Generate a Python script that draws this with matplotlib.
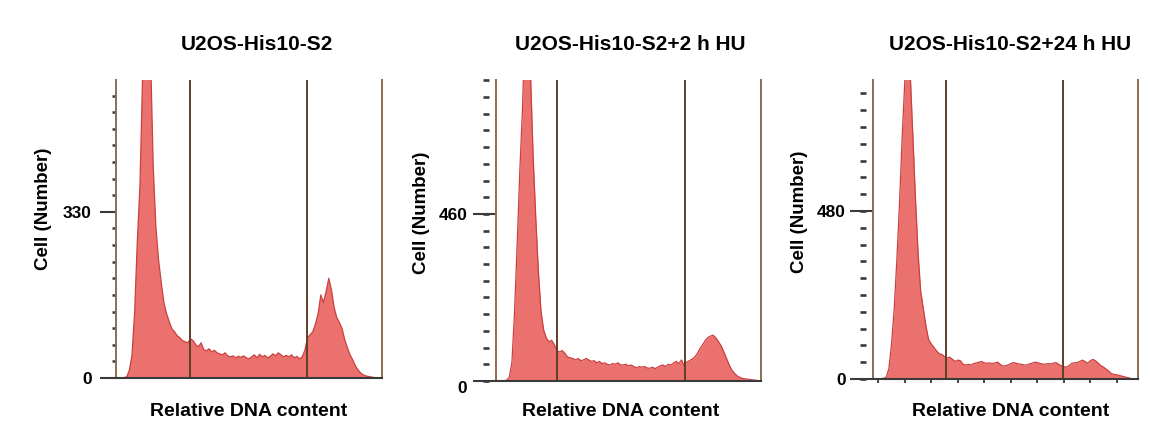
import numpy as np
import matplotlib
matplotlib.use("Agg")
import matplotlib.pyplot as plt
from matplotlib.ticker import MultipleLocator, FixedLocator, NullLocator, NullFormatter

plt.rcParams['font.family'] = ['Liberation Sans', 'DejaVu Sans']
plt.rcParams['font.weight'] = 'bold'

# ---------------- data ----------------
titles = ["U2OS-His10-S2", "U2OS-His10-S2+2 h HU", "U2OS-His10-S2+24 h HU"]
x_label = "Relative DNA content"
y_label = "Cell (Number)"
y_major_labels = [330, 460, 480]
y_tops = [592, 829, 854]
minor_steps = [33, 46, 48]

dna = np.arange(101)

counts_s2 = [0, 0, 0, 1, 2, 15, 45, 130, 270, 380, 600, 820, 900, 640, 420, 300, 235, 190, 150, 128,
             112, 98, 92, 84, 80, 74, 72, 70, 78, 74, 66, 62, 70, 56, 54, 58, 52, 55, 50, 48,
             46, 50, 44, 42, 44, 40, 43, 41, 44, 40, 38, 42, 46, 40, 47, 42, 45, 40, 43, 48,
             44, 50, 46, 42, 45, 42, 46, 40, 43, 38, 42, 55, 80, 86, 92, 108, 128, 165, 150, 172,
             198, 175, 140, 120, 110, 98, 76, 60, 46, 36, 24, 16, 10, 6, 4, 3, 2, 1, 0, 0, 0]

counts_2h = [0, 0, 1, 1, 2, 10, 50, 190, 380, 580, 750, 1000, 1100, 850, 620, 450, 300, 190, 140, 118,
             108, 112, 100, 84, 80, 84, 76, 66, 64, 62, 58, 62, 56, 58, 62, 58, 54, 56, 50, 54,
             48, 50, 46, 44, 48, 46, 50, 44, 44, 46, 42, 44, 40, 36, 40, 38, 40, 36, 35, 38,
             34, 38, 42, 44, 40, 46, 44, 50, 54, 48, 58, 42, 52, 56, 60, 66, 76, 90, 100, 112,
             120, 124, 126, 118, 108, 96, 80, 62, 44, 30, 21, 14, 10, 7, 6, 5, 4, 3, 2, 1, 0]

counts_24h = [0, 0, 0, 1, 2, 5, 30, 100, 200, 340, 500, 690, 850, 980, 880, 700, 520, 360, 250, 200,
              150, 112, 100, 90, 80, 72, 70, 64, 60, 62, 56, 50, 54, 52, 42, 40, 42, 40, 44, 46,
              48, 50, 46, 45, 46, 44, 46, 48, 42, 37, 38, 40, 44, 47, 45, 43, 42, 40, 40, 43,
              45, 48, 47, 44, 43, 42, 44, 43, 45, 47, 42, 38, 35, 34, 38, 45, 46, 47, 50, 54,
              50, 45, 52, 56, 52, 45, 38, 34, 28, 22, 15, 13, 12, 10, 8, 6, 4, 2, 0, 0, 0]

all_counts = [counts_s2, counts_2h, counts_24h]
gates = [[27.8, 71.8], [23.0, 71.3], [27.5, 71.7]]
x_bounds = [0, 100]

# ---------------- layout ----------------
W, H = 1176, 442
fig = plt.figure(figsize=(W / 100, H / 100), dpi=100)

# axes boxes in pixels: left, right, top, bottom
boxes = [(116, 382, 80, 378), (496, 761, 80, 381), (873, 1138, 80, 379)]
minor_offsets_px = [0, 7, 7]
title_pos = [(257, 45), (630, 45), (1010, 45)]
xlabel_pos = [(249, 412), (621, 412), (1011, 412)]
ylabel_pos = [(43, 209), (422, 213), (800, 212)]
label_pads = [6, 4, 3]

fill_col = '#eb716e'
edge_col = '#c9413f'
gate_col = '#5e3f27'
bound_col = '#8d6e4c'
axis_col = '#3a3a3a'
px2pt = 0.72

for i in range(3):
    l, r, t, b = boxes[i]
    ax = fig.add_axes([l / W, 1 - b / H, (r - l) / W, (b - t) / H])
    ax.set_xlim(0, 100)
    ax.set_ylim(0, y_tops[i])

    ax.fill_between(dna, all_counts[i], 0, color=fill_col, lw=0, zorder=2)
    ax.plot(dna, all_counts[i], color=edge_col, lw=0.9, zorder=3)

    for g in gates[i]:
        ax.axvline(g, color=gate_col, lw=1.4, zorder=4)
    for g in x_bounds:
        ax.axvline(g, color=bound_col, lw=1.4, zorder=4, clip_on=False)

    for s in ['top', 'right', 'left']:
        ax.spines[s].set_visible(False)
    ax.spines['bottom'].set_color(axis_col)
    ax.spines['bottom'].set_linewidth(1.5)
    ax.spines['bottom'].set_zorder(5)

    # y major ticks
    ax.yaxis.set_major_locator(FixedLocator([0, y_major_labels[i]]))
    ax.tick_params(axis='y', which='major', direction='out', length=(16 + minor_offsets_px[i]) * px2pt,
                   width=1.5, color=axis_col, labelsize=12.5, pad=label_pads[i])
    for lbl in ax.get_yticklabels():
        lbl.set_fontweight('bold')

    if minor_offsets_px[i] == 0:
        ax.yaxis.set_minor_locator(MultipleLocator(minor_steps[i]))
        ax.tick_params(axis='y', which='minor', direction='out', length=4.5 * px2pt,
                       width=1.8, color=axis_col)
    else:
        ax.yaxis.set_minor_locator(NullLocator())
        sec = ax.secondary_yaxis(-minor_offsets_px[i] / (r - l))
        for s in sec.spines.values():
            s.set_visible(False)
        sec.yaxis.set_major_locator(NullLocator())
        sec.yaxis.set_minor_locator(MultipleLocator(minor_steps[i]))
        sec.yaxis.set_minor_formatter(NullFormatter())
        sec.tick_params(axis='y', which='minor', direction='out', length=6 * px2pt,
                        width=1.9, color=axis_col)

    if i == 2:
        ax.xaxis.set_major_locator(FixedLocator(np.arange(2, 100, 10)))
        ax.tick_params(axis='x', which='major', direction='out', length=4 * px2pt,
                       width=1.3, color=axis_col, labelbottom=False)
    else:
        ax.set_xticks([])

    if i == 1:
        ax.get_yticklabels()[0].set_va('top')

    tx, ty = title_pos[i]
    fig.text(tx / W, 1 - ty / H, titles[i], ha='center', va='center', fontsize=15, fontweight='bold')
    xx, xy = xlabel_pos[i]
    fig.text(xx / W, 1 - xy / H, x_label, ha='center', va='center', fontsize=14, fontweight='bold')
    yx, yy = ylabel_pos[i]
    fig.text(yx / W, 1 - yy / H, y_label, ha='center', va='center', rotation=90,
             fontsize=13.5, fontweight='bold')

fig.savefig('out.png', dpi=100, facecolor='white')
